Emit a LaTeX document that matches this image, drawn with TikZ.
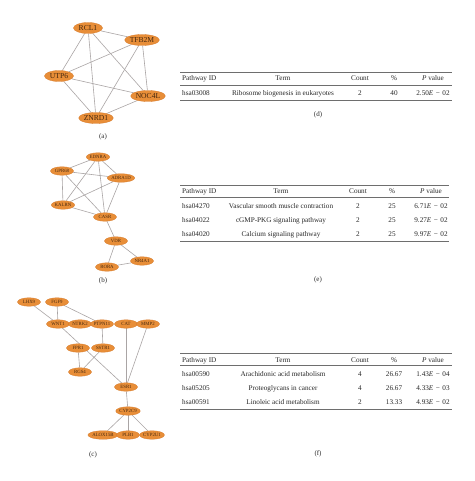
\documentclass[tikz,border=0pt]{standalone}
\usepackage{fontspec}
\setmainfont{Liberation Serif}
\usetikzlibrary{shapes.geometric}
\pgfdeclarelayer{bg}
\pgfdeclarelayer{edges}
\pgfsetlayers{bg,edges,main}
\definecolor{nodefill}{RGB}{232,142,56}
\definecolor{nodeline}{RGB}{214,120,40}
\definecolor{nodetext}{RGB}{70,40,15}
\definecolor{edgecol}{RGB}{170,165,165}
\definecolor{rulecol}{RGB}{110,110,110}
\definecolor{txtcol}{RGB}{40,40,40}
\newcommand{\expm}{\textit{E}\hspace{0.35em}−\hspace{0.35em}}
\tikzset{
  gbig/.style={ellipse, fill=nodefill, draw=nodeline, line width=0.3pt, minimum width=29pt, minimum height=11pt, inner sep=0pt, text=nodetext, font=\fontsize{7.6}{7.6}\selectfont},
  gsmall/.style={ellipse, fill=nodefill, draw=nodeline, line width=0.3pt, minimum width=23pt, minimum height=8.5pt, inner sep=0pt, text=nodetext, font=\fontsize{4.8}{4.8}\selectfont},
  gedge/.style={draw=edgecol, line width=0.6pt},
  panel/.style={text=txtcol, font=\fontsize{7}{7}\selectfont},
  tcell/.style={text=txtcol, font=\fontsize{7.2}{7.2}\selectfont, inner sep=0pt, anchor=base},
  tleft/.style={tcell, anchor=base west},
  trule/.style={draw=rulecol, line width=0.7pt}
}
\begin{document}
\begin{tikzpicture}[x=1pt,y=-1pt]
\begin{pgfonlayer}{bg}
\fill[white] (0,0) rectangle (474,481);
\end{pgfonlayer}
\useasboundingbox (0,0) rectangle (474,481);

% ---------- network (a)
\node[gbig] (rcl) at (88,28) {RCL1};
\node[gbig] (tfb) at (142,40) {TFB2M};
\node[gbig] (utp) at (59,76) {UTP6};
\node[gbig] (noc) at (148,96) {NOC4L};
\node[gbig] (znr) at (96,118) {ZNRD1};
\begin{pgfonlayer}{edges}
\foreach \a/\b in {rcl/tfb,rcl/utp,rcl/znr,rcl/noc,tfb/utp,tfb/znr,tfb/noc,utp/noc,utp/znr,znr/noc}
  \draw[gedge] (\a) -- (\b);
\end{pgfonlayer}
\node[panel] (la) at (103,137) {(a)};

% ---------- network (b)
\node[gsmall] (ednra) at (98,157) {EDNRA};
\node[gsmall] (gpr) at (62,171) {GPR68};
\node[gsmall] (adra) at (121,178) {ADRA1D};
\node[gsmall] (kalrn) at (63,205) {KALRN};
\node[gsmall] (casr) at (105,217) {CASR};
\node[gsmall] (vdr) at (116,241) {VDR};
\node[gsmall] (nr4) at (142,261) {NR4A1};
\node[gsmall] (rora) at (107,267) {RORA};
\begin{pgfonlayer}{edges}
\foreach \a/\b in {ednra/gpr,ednra/adra,ednra/kalrn,ednra/casr,gpr/adra,gpr/kalrn,gpr/casr,adra/kalrn,adra/casr,kalrn/casr,casr/vdr,vdr/rora,vdr/nr4,rora/nr4}
  \draw[gedge] (\a) -- (\b);
\end{pgfonlayer}
\node[panel] (lb) at (103,281) {(b)};

% ---------- network (c)
\node[gsmall] (lhx) at (29,302) {LHX9};
\node[gsmall] (fgf) at (57,302) {FGF9};
\node[gsmall] (wnt) at (58,324) {WNT1};
\node[gsmall] (ntrk) at (80,324) {NTRK2};
\node[gsmall] (ptpn) at (102,324) {PTPN11};
\node[gsmall] (cat) at (126,324) {CAT};
\node[gsmall] (mmp) at (148,324) {MMP2};
\node[gsmall] (fpr) at (78,348) {FPR1};
\node[gsmall] (sstr) at (103,348) {SSTR1};
\node[gsmall] (rgs) at (80,372) {RGS4};
\node[gsmall] (esr) at (126,387) {ESR1};
\node[gsmall] (cyp9) at (128,411) {CYP2C9};
\node[gsmall] (alox) at (103,435) {ALOX15B};
\node[gsmall] (plb) at (128,435) {PLB1};
\node[gsmall] (cypu) at (152,435) {CYP2U1};
\begin{pgfonlayer}{edges}
\foreach \a/\b in {lhx/wnt,fgf/wnt,fgf/ptpn,wnt/esr,ptpn/sstr,fpr/rgs,sstr/rgs,cat/esr,mmp/esr,esr/cyp9,cyp9/alox,cyp9/plb,cyp9/cypu}
  \draw[gedge] (\a) -- (\b);
\end{pgfonlayer}
\node[panel] (lc) at (93,455) {(c)};

% ---------- table (d)
\draw[trule] (180,72.5) -- (452,72.5);
\draw[trule, line width=0.5pt] (180,85) -- (452,85);
\draw[trule] (180,100) -- (452,100);
\node[tleft] at (182,81) {Pathway ID};
\node[tcell] at (283,81) {Term};
\node[tcell] at (360,81) {Count};
\node[tcell] at (394,81) {\%};
\node[tcell] at (433,81) {\textit{P} value};
\node[tleft] at (182,95.5) {hsa03008};
\node[tcell] at (283,95.5) {Ribosome biogenesis in eukaryotes};
\node[tcell] at (360,95.5) {2};
\node[tcell] at (394,95.5) {40};
\node[tcell] at (433,95.5) {2.50\expm 02};
\node[panel] (ld) at (318,115) {(d)};

% ---------- table (e)
\draw[trule] (180,185) -- (449,185);
\draw[trule, line width=0.5pt] (180,197.5) -- (449,197.5);
\draw[trule] (180,241) -- (449,241);
\node[tleft] at (182,193.5) {Pathway ID};
\node[tcell] at (281,193.5) {Term};
\node[tcell] at (358,193.5) {Count};
\node[tcell] at (392,193.5) {\%};
\node[tcell] at (431,193.5) {\textit{P} value};
\foreach \y/\id/\term/\c/\pc/\pv in {
  208.5/hsa04270/Vascular smooth muscle contraction/2/25/6.71,
  222/hsa04022/cGMP-PKG signaling pathway/2/25/9.27,
  236/hsa04020/Calcium signaling pathway/2/25/9.97}{
  \node[tleft] at (182,\y) {\id};
  \node[tcell] at (281,\y) {\term};
  \node[tcell] at (358,\y) {\c};
  \node[tcell] at (392,\y) {\pc};
  \node[tcell] at (431,\y) {\pv\expm 02};
}
\node[panel] (le) at (318,280) {(e)};

% ---------- table (f)
\draw[trule] (180,353) -- (452,353);
\draw[trule, line width=0.5pt] (180,365.5) -- (452,365.5);
\draw[trule] (180,409) -- (452,409);
\node[tleft] at (182,362.5) {Pathway ID};
\node[tcell] at (283,362.5) {Term};
\node[tcell] at (360,362.5) {Count};
\node[tcell] at (394,362.5) {\%};
\node[tcell] at (433,362.5) {\textit{P} value};
\foreach \y/\id/\term/\c/\pc/\pv in {
  376/hsa00590/Arachidonic acid metabolism/4/26.67/1.43\expm 04,
  390/hsa05205/Proteoglycans in cancer/4/26.67/4.33\expm 03,
  404/hsa00591/Linoleic acid metabolism/2/13.33/4.93\expm 02}{
  \node[tleft] at (182,\y) {\id};
  \node[tcell] at (283,\y) {\term};
  \node[tcell] at (360,\y) {\c};
  \node[tcell] at (394,\y) {\pc};
  \node[tcell] at (433,\y) {\pv};
}
\node[panel] (lf) at (318,454) {(f)};
\end{tikzpicture}
\end{document}
